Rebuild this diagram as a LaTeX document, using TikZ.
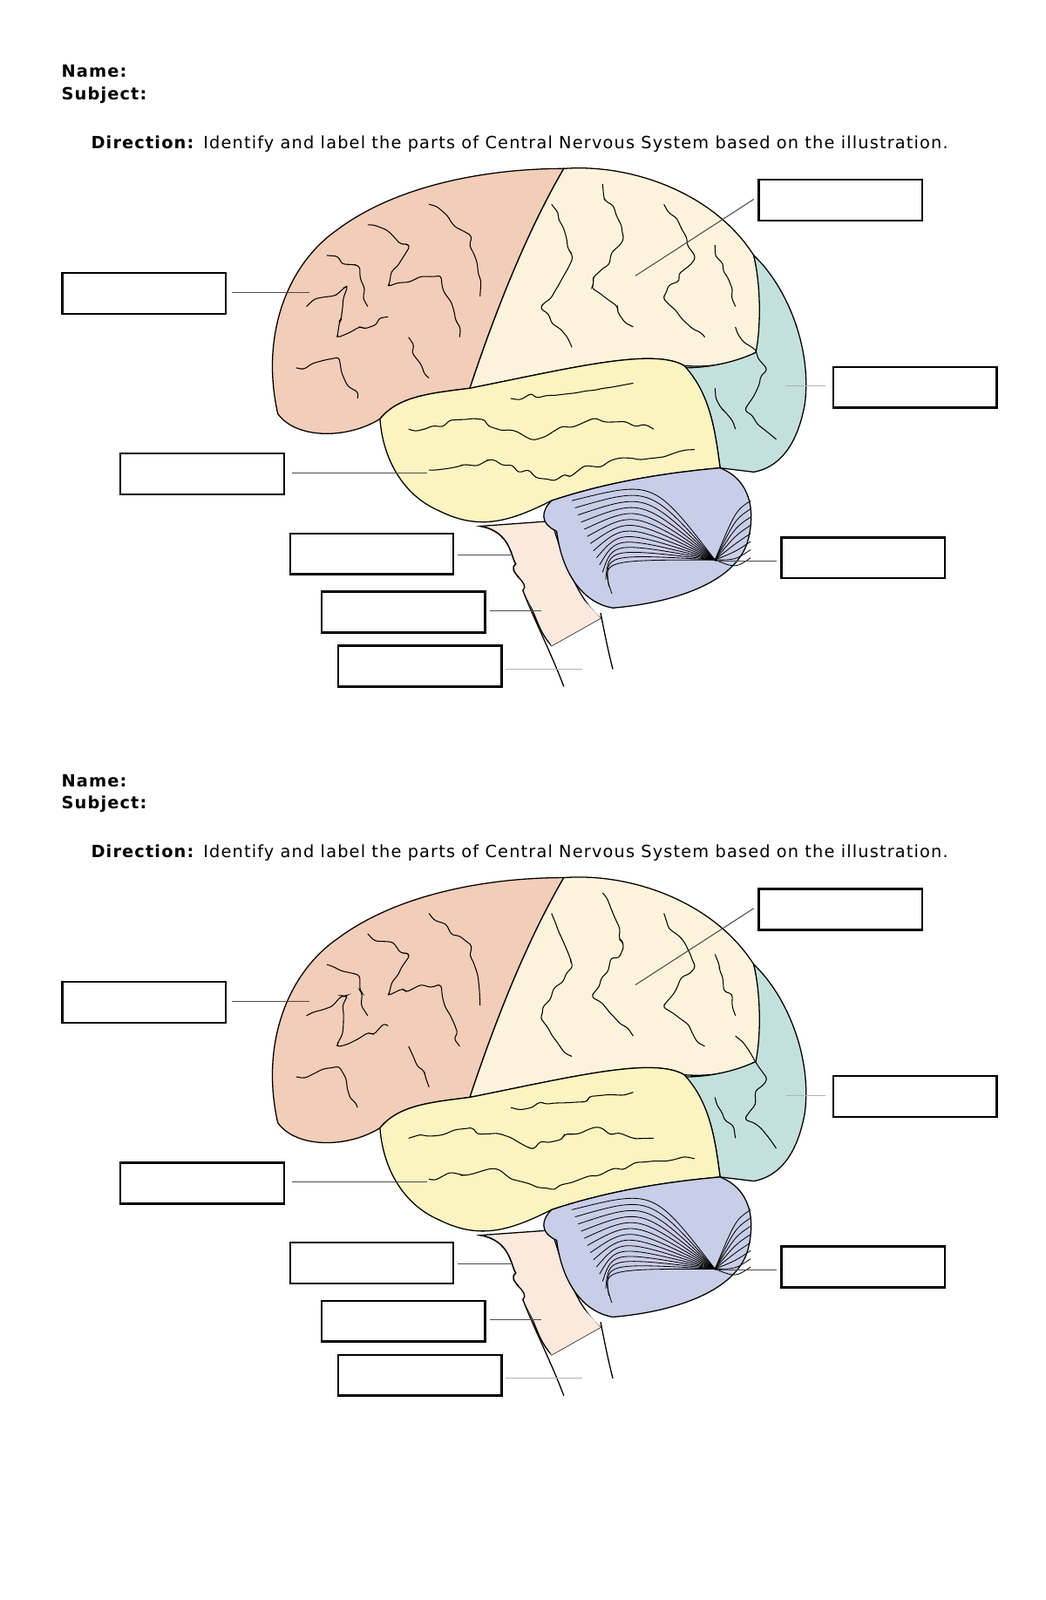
\documentclass[tikz,border=0pt]{standalone}
\usepackage{fontspec}
\setmainfont{DejaVu Sans}[LetterSpace=6]
\usetikzlibrary{decorations.pathmorphing}
\definecolor{frontal}{HTML}{F2CDB8}
\definecolor{parietal}{HTML}{FDF3DC}
\definecolor{occip}{HTML}{C4E0DC}
\definecolor{tempo}{HTML}{FBF4C0}
\definecolor{cereb}{HTML}{C8CDE8}
\definecolor{stem}{HTML}{FBE9DE}
\begin{document}
\begin{tikzpicture}[x=1pt,y=-1pt,
  lbox/.style={draw=black,line width=2pt,minimum width=160pt,minimum height=40pt,inner sep=0pt},
  lead/.style={draw=black!70,line width=0.9pt},
  faint/.style={draw=black!30,line width=0.9pt},
  region/.style={draw=black,line width=1.1pt},
  gyr/.style={draw=black,line width=0.9pt,decorate,decoration={random steps,segment length=9pt,amplitude=4pt},rounded corners=3pt},
  txt/.style={font=\fontsize{16.5}{20}\selectfont,inner sep=0pt}]
\fill[white] (0,0) rectangle (1024,1566);
\useasboundingbox (0,0) rectangle (1024,1566);
\foreach \oy in {0,694}{
\begin{scope}[shift={(0,\oy)}]
\node[txt,anchor=west,font=\fontsize{16.5}{20}\selectfont\bfseries] (name\oy) at (60,70) {Name:};
\node[txt,anchor=west,font=\fontsize{16.5}{20}\selectfont\bfseries] (subj\oy) at (60,93) {Subject:};
\node[txt,anchor=west] (dir\oy) at (89,141) {\textbf{Direction:} Identify and label the parts of Central Nervous System based on the illustration.};
% regions
\path[region,fill=frontal] (272,405) .. controls (255,330) and (280,260) .. (330,225) .. controls (390,180) and (480,165) .. (552,165)
  .. controls (520,220) and (490,290) .. (460,380) .. controls (420,385) and (390,388) .. (372,410)
  .. controls (340,430) and (290,430) .. (272,405) -- cycle;
\path[region,fill=parietal] (552,165) .. controls (620,160) and (700,190) .. (738,250)
  .. controls (748,290) and (745,330) .. (740,345) .. controls (720,355) and (700,360) .. (670,358)
  .. controls (640,340) and (560,360) .. (460,380) .. controls (490,290) and (520,220) .. (552,165) -- cycle;
\path[region,fill=occip] (738,250) .. controls (770,280) and (795,340) .. (788,395)
  .. controls (780,440) and (760,458) .. (738,462) -- (705,458) .. controls (700,420) and (695,385) .. (670,360)
  .. controls (700,360) and (725,352) .. (740,345) .. controls (745,320) and (745,280) .. (738,250) -- cycle;
\path[region,fill=tempo] (372,410) .. controls (390,388) and (420,385) .. (460,380)
  .. controls (560,360) and (640,340) .. (670,358) .. controls (695,385) and (700,420) .. (705,458)
  .. controls (660,462) and (600,470) .. (540,490) .. controls (500,510) and (470,520) .. (430,500)
  .. controls (395,485) and (375,450) .. (372,410) -- cycle;
\path[region,fill=stem] (470,515) .. controls (500,520) and (500,545) .. (505,552)
  .. controls (495,560) and (520,570) .. (512,578) .. controls (525,600) and (525,615) .. (540,632)
  -- (588,605) .. controls (570,590) and (555,560) .. (540,510) -- cycle;
\path[region,fill=cereb] (540,490) .. controls (600,470) and (660,462) .. (705,458)
  .. controls (735,470) and (740,500) .. (732,530) .. controls (720,570) and (660,590) .. (600,595)
  .. controls (570,590) and (550,560) .. (545,520) .. controls (528,512) and (530,500) .. (540,490) -- cycle;
\fill[stem] (505,552) -- (512,578) -- (540,632) -- (588,605) -- (560,575) -- cycle;
\draw[region] (470,515) .. controls (500,520) and (500,545) .. (505,552) .. controls (495,560) and (520,570) .. (512,578)
  .. controls (520,600) and (540,640) .. (552,672);
\draw[region] (588,600) .. controls (592,620) and (596,640) .. (600,655);
% gyri
\draw[gyr] (300,300) -- (340,280) -- (330,330) -- (380,310);
\draw[gyr] (290,360) -- (330,350) -- (350,390);
\draw[gyr] (360,220) -- (400,240) -- (380,280) -- (430,270) -- (450,330);
\draw[gyr] (420,200) -- (460,230) -- (470,290);
\draw[gyr] (320,250) -- (350,260) -- (360,300);
\draw[gyr] (400,330) -- (420,370);
\draw[gyr] (540,200) -- (560,250) -- (530,300) -- (560,340);
\draw[gyr] (590,180) -- (610,230) -- (580,280) -- (620,320);
\draw[gyr] (650,200) -- (680,250) -- (650,290) -- (690,330);
\draw[gyr] (700,240) -- (720,300);
\draw[gyr] (400,420) -- (460,410) -- (520,430) -- (580,410) -- (640,420);
\draw[gyr] (420,460) -- (480,450) -- (540,470) -- (600,450) -- (680,440);
\draw[gyr] (500,390) -- (560,385) -- (620,375);
\draw[gyr] (720,320) -- (750,360) -- (730,400) -- (760,430);
\draw[gyr] (700,380) -- (720,420);
\foreach \a in {0,...,13}{
  \draw[black,line width=0.7pt] (700,548) .. controls ({640-4*\a},{470+6*\a}) .. ({560+3*\a},{490+7*\a});
}
\foreach \a in {0,...,7}{
  \draw[black,line width=0.7pt] (700,548) .. controls (720,{500+8*\a}) .. (735,{490+8*\a});
}
% boxes
\node[lbox,anchor=north west] (b1\oy) at (60,266) {};
\node[lbox,anchor=north west] (b2\oy) at (742,175) {};
\node[lbox,anchor=north west] (b3\oy) at (815,358) {};
\node[lbox,anchor=north west] (b4\oy) at (117,443) {};
\node[lbox,anchor=north west] (b5\oy) at (764,525) {};
\node[lbox,anchor=north west] (b6\oy) at (283,521) {};
\node[lbox,anchor=north west] (b7\oy) at (314,578) {};
\node[lbox,anchor=north west] (b8\oy) at (330,631) {};
\coordinate (p1\oy) at (303,286);
\coordinate (p2\oy) at (622,270);
\coordinate (p3\oy) at (770,378);
\coordinate (p4\oy) at (418,463);
\coordinate (p5\oy) at (700,549);
\coordinate (p6\oy) at (500,543);
\coordinate (p7\oy) at (530,598);
\coordinate (p8\oy) at (570,655);
\draw[lead] (227,286) -- (p1\oy);
\draw[lead] ([xshift=-4pt,yshift=1pt]b2\oy.west) -- (p2\oy);
\draw[faint] (808,378) -- (p3\oy);
\draw[lead] (286,463) -- (p4\oy);
\draw[lead] (760,549) -- (p5\oy);
\draw[lead] (448,543) -- (p6\oy);
\draw[lead] (480,598) -- (p7\oy);
\draw[faint] (495,655) -- (p8\oy);
\end{scope}}
\end{tikzpicture}
\end{document}
